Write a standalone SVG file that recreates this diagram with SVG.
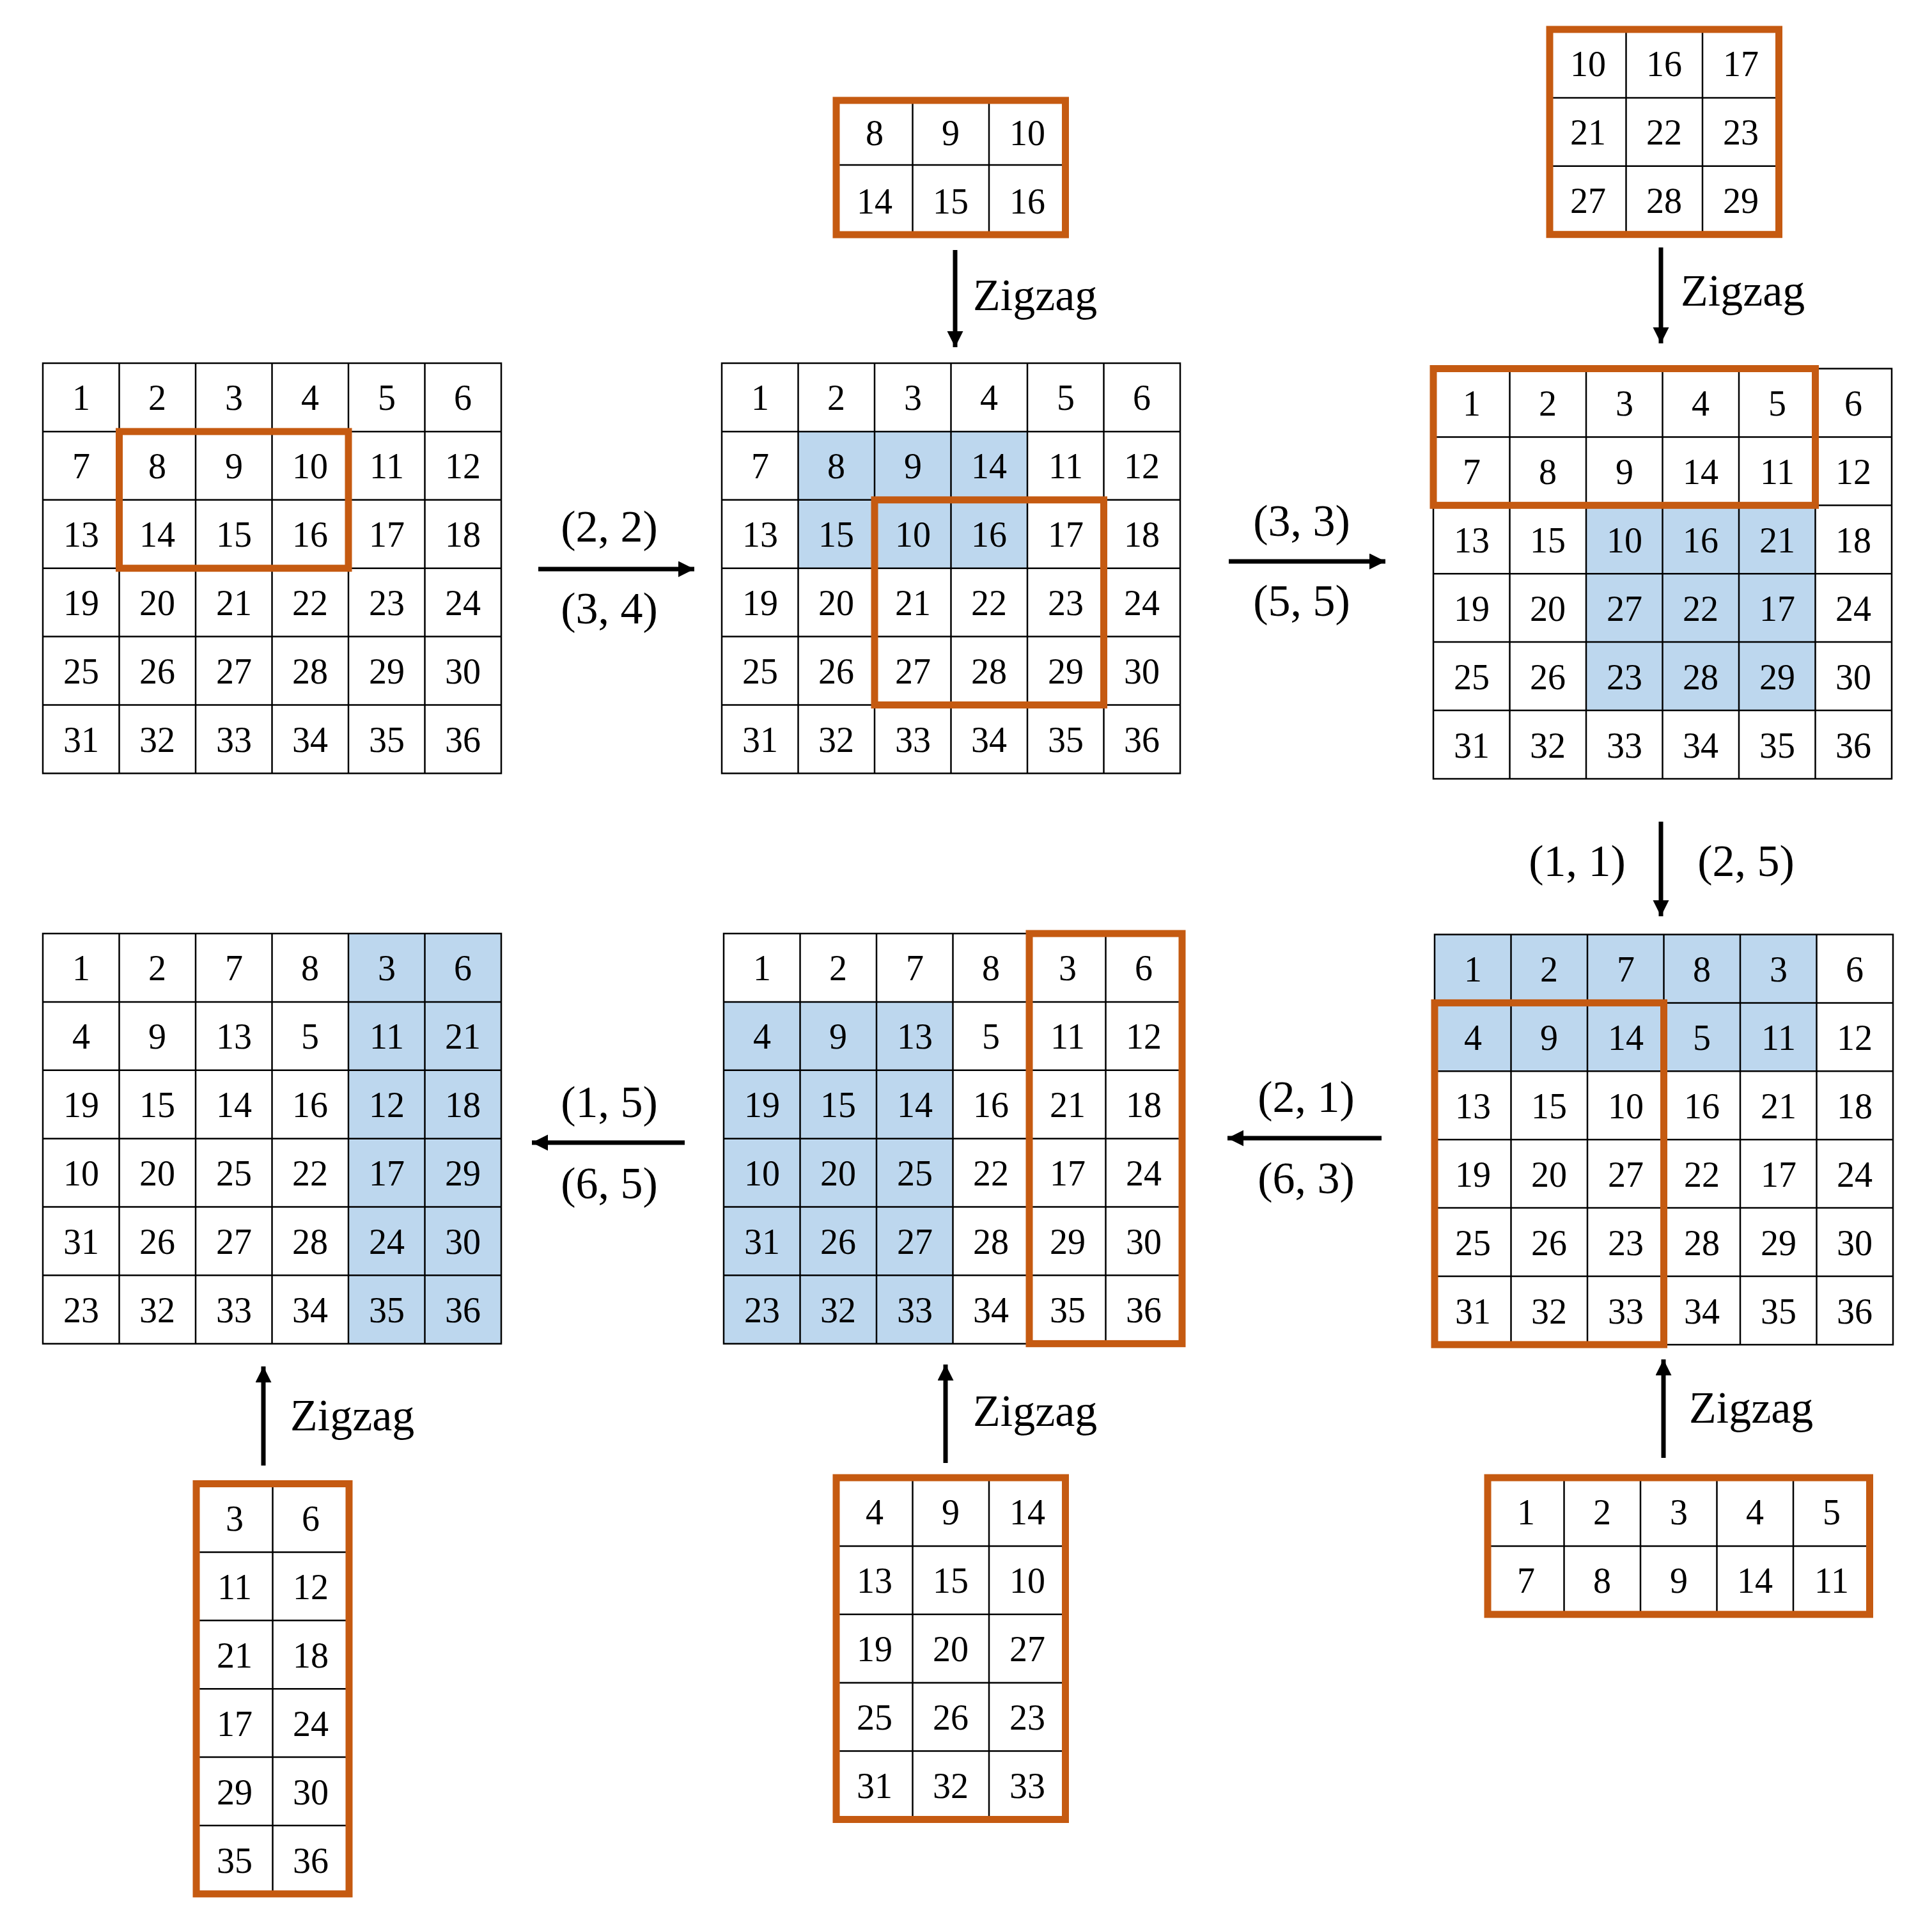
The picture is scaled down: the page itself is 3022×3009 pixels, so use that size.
<svg xmlns="http://www.w3.org/2000/svg" xmlns:xlink="http://www.w3.org/1999/xlink" width="3022" height="3009" viewBox="0 0 3022 3009">
<style>
.n{font-family:"Liberation Serif","Times New Roman",serif;font-size:56px;text-anchor:middle;fill:#000}
.l{font-family:"Liberation Serif","Times New Roman",serif;font-size:70px;fill:#000}
.c{text-anchor:middle}
.g{fill:none;stroke:#000;stroke-width:2.5}
.b{fill:#BDD7EE}
.o{fill:none;stroke:#C55A11;stroke-width:11}
.a{stroke:#000;stroke-width:7;fill:none;marker-end:url(#ah)}
</style>
<defs>
<marker id="ah" markerUnits="userSpaceOnUse" markerWidth="26" markerHeight="26" refX="25" refY="12.5" orient="auto">
<path d="M0,0L25,12.5L0,25Z" fill="#000"/>
</marker>
<path id="g66" d="M0,0H717V641.4H0Z M119.5,0V641.4 M239,0V641.4 M358.5,0V641.4 M478,0V641.4 M597.5,0V641.4 M0,106.9H717 M0,213.8H717 M0,320.7H717 M0,427.6H717 M0,534.5H717"/>
</defs>
<rect width="3022" height="3009" fill="#fff"/>

<g id="grid1" transform="translate(67,568)">
<use xlink:href="#g66" class="g"/>
<text class="n" x="60" y="73">1</text><text class="n" x="179" y="73">2</text><text class="n" x="299" y="73">3</text><text class="n" x="418" y="73">4</text><text class="n" x="538" y="73">5</text><text class="n" x="657" y="73">6</text>
<text class="n" x="60" y="180">7</text><text class="n" x="179" y="180">8</text><text class="n" x="299" y="180">9</text><text class="n" x="418" y="180">10</text><text class="n" x="538" y="180">11</text><text class="n" x="657" y="180">12</text>
<text class="n" x="60" y="287">13</text><text class="n" x="179" y="287">14</text><text class="n" x="299" y="287">15</text><text class="n" x="418" y="287">16</text><text class="n" x="538" y="287">17</text><text class="n" x="657" y="287">18</text>
<text class="n" x="60" y="394">19</text><text class="n" x="179" y="394">20</text><text class="n" x="299" y="394">21</text><text class="n" x="418" y="394">22</text><text class="n" x="538" y="394">23</text><text class="n" x="657" y="394">24</text>
<text class="n" x="60" y="501">25</text><text class="n" x="179" y="501">26</text><text class="n" x="299" y="501">27</text><text class="n" x="418" y="501">28</text><text class="n" x="538" y="501">29</text><text class="n" x="657" y="501">30</text>
<text class="n" x="60" y="608">31</text><text class="n" x="179" y="608">32</text><text class="n" x="299" y="608">33</text><text class="n" x="418" y="608">34</text><text class="n" x="538" y="608">35</text><text class="n" x="657" y="608">36</text>
<rect class="o" x="119.5" y="106.9" width="358.5" height="213.8"/>
</g>

<g id="grid2" transform="translate(1129,568)">
<rect class="b" x="119.5" y="106.9" width="358.5" height="213.8"/>
<use xlink:href="#g66" class="g"/>
<text class="n" x="60" y="73">1</text><text class="n" x="179" y="73">2</text><text class="n" x="299" y="73">3</text><text class="n" x="418" y="73">4</text><text class="n" x="538" y="73">5</text><text class="n" x="657" y="73">6</text>
<text class="n" x="60" y="180">7</text><text class="n" x="179" y="180">8</text><text class="n" x="299" y="180">9</text><text class="n" x="418" y="180">14</text><text class="n" x="538" y="180">11</text><text class="n" x="657" y="180">12</text>
<text class="n" x="60" y="287">13</text><text class="n" x="179" y="287">15</text><text class="n" x="299" y="287">10</text><text class="n" x="418" y="287">16</text><text class="n" x="538" y="287">17</text><text class="n" x="657" y="287">18</text>
<text class="n" x="60" y="394">19</text><text class="n" x="179" y="394">20</text><text class="n" x="299" y="394">21</text><text class="n" x="418" y="394">22</text><text class="n" x="538" y="394">23</text><text class="n" x="657" y="394">24</text>
<text class="n" x="60" y="501">25</text><text class="n" x="179" y="501">26</text><text class="n" x="299" y="501">27</text><text class="n" x="418" y="501">28</text><text class="n" x="538" y="501">29</text><text class="n" x="657" y="501">30</text>
<text class="n" x="60" y="608">31</text><text class="n" x="179" y="608">32</text><text class="n" x="299" y="608">33</text><text class="n" x="418" y="608">34</text><text class="n" x="538" y="608">35</text><text class="n" x="657" y="608">36</text>
<rect class="o" x="239" y="213.8" width="358.5" height="320.7"/>
</g>

<g id="grid3" transform="translate(2242,576.5)">
<rect class="b" x="239" y="213.8" width="358.5" height="320.7"/>
<use xlink:href="#g66" class="g"/>
<text class="n" x="60" y="73">1</text><text class="n" x="179" y="73">2</text><text class="n" x="299" y="73">3</text><text class="n" x="418" y="73">4</text><text class="n" x="538" y="73">5</text><text class="n" x="657" y="73">6</text>
<text class="n" x="60" y="180">7</text><text class="n" x="179" y="180">8</text><text class="n" x="299" y="180">9</text><text class="n" x="418" y="180">14</text><text class="n" x="538" y="180">11</text><text class="n" x="657" y="180">12</text>
<text class="n" x="60" y="287">13</text><text class="n" x="179" y="287">15</text><text class="n" x="299" y="287">10</text><text class="n" x="418" y="287">16</text><text class="n" x="538" y="287">21</text><text class="n" x="657" y="287">18</text>
<text class="n" x="60" y="394">19</text><text class="n" x="179" y="394">20</text><text class="n" x="299" y="394">27</text><text class="n" x="418" y="394">22</text><text class="n" x="538" y="394">17</text><text class="n" x="657" y="394">24</text>
<text class="n" x="60" y="501">25</text><text class="n" x="179" y="501">26</text><text class="n" x="299" y="501">23</text><text class="n" x="418" y="501">28</text><text class="n" x="538" y="501">29</text><text class="n" x="657" y="501">30</text>
<text class="n" x="60" y="608">31</text><text class="n" x="179" y="608">32</text><text class="n" x="299" y="608">33</text><text class="n" x="418" y="608">34</text><text class="n" x="538" y="608">35</text><text class="n" x="657" y="608">36</text>
<rect class="o" x="0" y="0" width="597.5" height="213.8"/>
</g>

<g id="grid4" transform="translate(2244,1461.5)">
<rect class="b" x="0" y="0" width="597.5" height="213.8"/>
<use xlink:href="#g66" class="g"/>
<text class="n" x="60" y="73">1</text><text class="n" x="179" y="73">2</text><text class="n" x="299" y="73">7</text><text class="n" x="418" y="73">8</text><text class="n" x="538" y="73">3</text><text class="n" x="657" y="73">6</text>
<text class="n" x="60" y="180">4</text><text class="n" x="179" y="180">9</text><text class="n" x="299" y="180">14</text><text class="n" x="418" y="180">5</text><text class="n" x="538" y="180">11</text><text class="n" x="657" y="180">12</text>
<text class="n" x="60" y="287">13</text><text class="n" x="179" y="287">15</text><text class="n" x="299" y="287">10</text><text class="n" x="418" y="287">16</text><text class="n" x="538" y="287">21</text><text class="n" x="657" y="287">18</text>
<text class="n" x="60" y="394">19</text><text class="n" x="179" y="394">20</text><text class="n" x="299" y="394">27</text><text class="n" x="418" y="394">22</text><text class="n" x="538" y="394">17</text><text class="n" x="657" y="394">24</text>
<text class="n" x="60" y="501">25</text><text class="n" x="179" y="501">26</text><text class="n" x="299" y="501">23</text><text class="n" x="418" y="501">28</text><text class="n" x="538" y="501">29</text><text class="n" x="657" y="501">30</text>
<text class="n" x="60" y="608">31</text><text class="n" x="179" y="608">32</text><text class="n" x="299" y="608">33</text><text class="n" x="418" y="608">34</text><text class="n" x="538" y="608">35</text><text class="n" x="657" y="608">36</text>
<rect class="o" x="0" y="106.9" width="358.5" height="534.5"/>
</g>

<g id="grid5" transform="translate(1132,1460)">
<rect class="b" x="0" y="106.9" width="358.5" height="534.5"/>
<use xlink:href="#g66" class="g"/>
<text class="n" x="60" y="73">1</text><text class="n" x="179" y="73">2</text><text class="n" x="299" y="73">7</text><text class="n" x="418" y="73">8</text><text class="n" x="538" y="73">3</text><text class="n" x="657" y="73">6</text>
<text class="n" x="60" y="180">4</text><text class="n" x="179" y="180">9</text><text class="n" x="299" y="180">13</text><text class="n" x="418" y="180">5</text><text class="n" x="538" y="180">11</text><text class="n" x="657" y="180">12</text>
<text class="n" x="60" y="287">19</text><text class="n" x="179" y="287">15</text><text class="n" x="299" y="287">14</text><text class="n" x="418" y="287">16</text><text class="n" x="538" y="287">21</text><text class="n" x="657" y="287">18</text>
<text class="n" x="60" y="394">10</text><text class="n" x="179" y="394">20</text><text class="n" x="299" y="394">25</text><text class="n" x="418" y="394">22</text><text class="n" x="538" y="394">17</text><text class="n" x="657" y="394">24</text>
<text class="n" x="60" y="501">31</text><text class="n" x="179" y="501">26</text><text class="n" x="299" y="501">27</text><text class="n" x="418" y="501">28</text><text class="n" x="538" y="501">29</text><text class="n" x="657" y="501">30</text>
<text class="n" x="60" y="608">23</text><text class="n" x="179" y="608">32</text><text class="n" x="299" y="608">33</text><text class="n" x="418" y="608">34</text><text class="n" x="538" y="608">35</text><text class="n" x="657" y="608">36</text>
<rect class="o" x="478" y="0" width="239" height="641.4"/>
</g>

<g id="grid6" transform="translate(67,1460)">
<rect class="b" x="478" y="0" width="239" height="641.4"/>
<use xlink:href="#g66" class="g"/>
<text class="n" x="60" y="73">1</text><text class="n" x="179" y="73">2</text><text class="n" x="299" y="73">7</text><text class="n" x="418" y="73">8</text><text class="n" x="538" y="73">3</text><text class="n" x="657" y="73">6</text>
<text class="n" x="60" y="180">4</text><text class="n" x="179" y="180">9</text><text class="n" x="299" y="180">13</text><text class="n" x="418" y="180">5</text><text class="n" x="538" y="180">11</text><text class="n" x="657" y="180">21</text>
<text class="n" x="60" y="287">19</text><text class="n" x="179" y="287">15</text><text class="n" x="299" y="287">14</text><text class="n" x="418" y="287">16</text><text class="n" x="538" y="287">12</text><text class="n" x="657" y="287">18</text>
<text class="n" x="60" y="394">10</text><text class="n" x="179" y="394">20</text><text class="n" x="299" y="394">25</text><text class="n" x="418" y="394">22</text><text class="n" x="538" y="394">17</text><text class="n" x="657" y="394">29</text>
<text class="n" x="60" y="501">31</text><text class="n" x="179" y="501">26</text><text class="n" x="299" y="501">27</text><text class="n" x="418" y="501">28</text><text class="n" x="538" y="501">24</text><text class="n" x="657" y="501">30</text>
<text class="n" x="60" y="608">23</text><text class="n" x="179" y="608">32</text><text class="n" x="299" y="608">33</text><text class="n" x="418" y="608">34</text><text class="n" x="538" y="608">35</text><text class="n" x="657" y="608">36</text>
</g>

<g id="block1" transform="translate(1308,157)">
<path class="g" d="M119.5,0V210 M239,0V210 M0,101H358.5"/>
<text class="n" x="60" y="70">8</text><text class="n" x="179" y="70">9</text><text class="n" x="299" y="70">10</text>
<text class="n" x="60" y="176.5">14</text><text class="n" x="179" y="176.5">15</text><text class="n" x="299" y="176.5">16</text>
<rect class="o" x="0" y="0" width="358.5" height="210"/>
</g>

<g id="block2" transform="translate(2424,46)">
<path class="g" d="M119.5,0V320.7 M239,0V320.7 M0,106.9H358.5 M0,213.8H358.5"/>
<text class="n" x="60" y="73">10</text><text class="n" x="179" y="73">16</text><text class="n" x="299" y="73">17</text>
<text class="n" x="60" y="180">21</text><text class="n" x="179" y="180">22</text><text class="n" x="299" y="180">23</text>
<text class="n" x="60" y="287">27</text><text class="n" x="179" y="287">28</text><text class="n" x="299" y="287">29</text>
<rect class="o" x="0" y="0" width="358.5" height="320.7"/>
</g>

<g id="block3" transform="translate(2327,2311)">
<path class="g" d="M119.5,0V213.8 M239,0V213.8 M358.5,0V213.8 M478,0V213.8 M0,106.9H597.5"/>
<text class="n" x="60" y="73">1</text><text class="n" x="179" y="73">2</text><text class="n" x="299" y="73">3</text><text class="n" x="418" y="73">4</text><text class="n" x="538" y="73">5</text>
<text class="n" x="60" y="180">7</text><text class="n" x="179" y="180">8</text><text class="n" x="299" y="180">9</text><text class="n" x="418" y="180">14</text><text class="n" x="538" y="180">11</text>
<rect class="o" x="0" y="0" width="597.5" height="213.8"/>
</g>

<g id="block4" transform="translate(1308,2311)">
<path class="g" d="M119.5,0V534.5 M239,0V534.5 M0,106.9H358.5 M0,213.8H358.5 M0,320.7H358.5 M0,427.6H358.5"/>
<text class="n" x="60" y="73">4</text><text class="n" x="179" y="73">9</text><text class="n" x="299" y="73">14</text>
<text class="n" x="60" y="180">13</text><text class="n" x="179" y="180">15</text><text class="n" x="299" y="180">10</text>
<text class="n" x="60" y="287">19</text><text class="n" x="179" y="287">20</text><text class="n" x="299" y="287">27</text>
<text class="n" x="60" y="394">25</text><text class="n" x="179" y="394">26</text><text class="n" x="299" y="394">23</text>
<text class="n" x="60" y="501">31</text><text class="n" x="179" y="501">32</text><text class="n" x="299" y="501">33</text>
<rect class="o" x="0" y="0" width="358.5" height="534.5"/>
</g>

<g id="block5" transform="translate(307,2320.5)">
<path class="g" d="M119.5,0V641.4 M0,106.9H239 M0,213.8H239 M0,320.7H239 M0,427.6H239 M0,534.5H239"/>
<text class="n" x="60" y="73">3</text><text class="n" x="179" y="73">6</text>
<text class="n" x="60" y="180">11</text><text class="n" x="179" y="180">12</text>
<text class="n" x="60" y="287">21</text><text class="n" x="179" y="287">18</text>
<text class="n" x="60" y="394">17</text><text class="n" x="179" y="394">24</text>
<text class="n" x="60" y="501">29</text><text class="n" x="179" y="501">30</text>
<text class="n" x="60" y="608">35</text><text class="n" x="179" y="608">36</text>
<rect class="o" x="0" y="0" width="239" height="641.4"/>
</g>

<g id="connectors">
<line class="a" x1="1494" y1="391" x2="1494" y2="543"/>
<line class="a" x1="2598" y1="387" x2="2598" y2="537"/>
<line class="a" x1="842" y1="890" x2="1086" y2="890"/>
<line class="a" x1="1922" y1="878" x2="2167" y2="878"/>
<line class="a" x1="2598" y1="1285" x2="2598" y2="1433"/>
<line class="a" x1="2161" y1="1780" x2="1920" y2="1780"/>
<line class="a" x1="1071" y1="1787" x2="832" y2="1787"/>
<line class="a" x1="2602" y1="2280" x2="2602" y2="2126"/>
<line class="a" x1="1479" y1="2288" x2="1479" y2="2134"/>
<line class="a" x1="412" y1="2292" x2="412" y2="2137"/>
</g>

<g id="labels">
<text class="l" x="1522" y="485">Zigzag</text>
<text class="l" x="2629" y="478">Zigzag</text>
<text class="l" x="2642" y="2225">Zigzag</text>
<text class="l" x="1522" y="2230">Zigzag</text>
<text class="l" x="454" y="2237">Zigzag</text>
<text class="l c" x="953" y="847">(2, 2)</text>
<text class="l c" x="953" y="975">(3, 4)</text>
<text class="l c" x="2036" y="838">(3, 3)</text>
<text class="l c" x="2036" y="963">(5, 5)</text>
<text class="l c" x="2467" y="1370">(1, 1)</text>
<text class="l c" x="2731" y="1370">(2, 5)</text>
<text class="l c" x="2043" y="1739">(2, 1)</text>
<text class="l c" x="2043" y="1866">(6, 3)</text>
<text class="l c" x="953" y="1747">(1, 5)</text>
<text class="l c" x="953" y="1874">(6, 5)</text>
</g>
</svg>
